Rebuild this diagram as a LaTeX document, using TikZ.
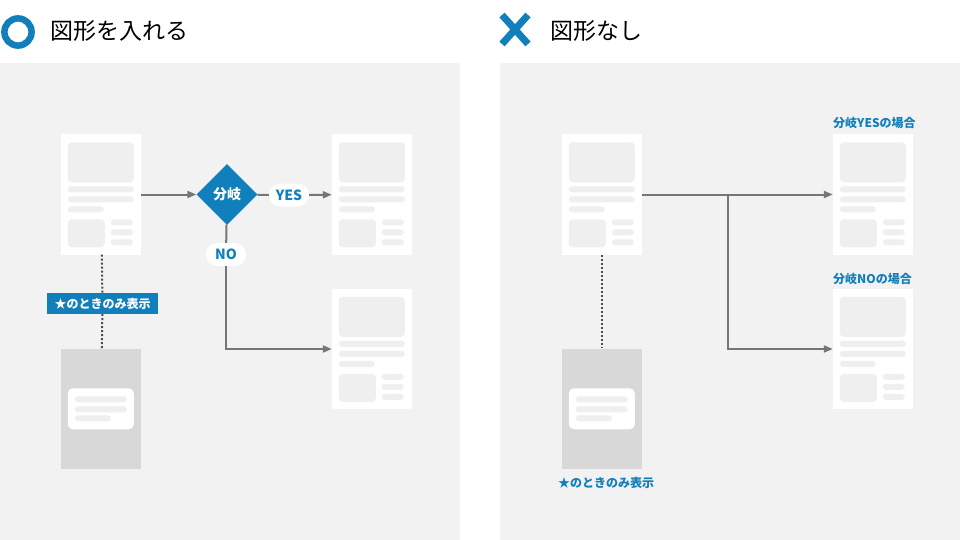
\documentclass[tikz,border=0pt]{standalone}
\usepackage{fontspec}
\setmainfont{Noto Sans CJK JP}
\usetikzlibrary{arrows.meta,shapes.geometric}
\definecolor{mainblue}{RGB}{17,127,187}
\definecolor{panelgray}{RGB}{242,242,242}
\definecolor{inkgray}{RGB}{118,118,118}
\definecolor{skeleton}{RGB}{239,239,239}
\definecolor{mutedcard}{RGB}{216,216,216}
\tikzstyle{page}=[rectangle,fill=white,minimum width=80,minimum height=120,inner sep=0pt]
\tikzstyle{hidden page}=[page,fill=mutedcard]
\tikzstyle{branch}=[diamond,fill=mainblue,text=white,font=\bfseries\fontsize{14}{14}\selectfont,minimum width=61,minimum height=61,inner sep=0pt]
\tikzstyle{answer}=[rectangle,rounded corners=11,fill=white,text=mainblue,font=\bfseries\fontsize{14}{14}\selectfont,minimum width=40,minimum height=23,inner sep=0pt]
\tikzstyle{tag}=[rectangle,fill=mainblue,text=white,font=\bfseries\fontsize{12}{12}\selectfont,minimum width=111,minimum height=21,inner sep=0pt]
\tikzstyle{caption}=[text=mainblue,font=\bfseries\fontsize{12}{12}\selectfont,inner sep=0pt]
\tikzstyle{heading}=[font=\fontsize{23}{23}\selectfont,inner sep=0pt,anchor=west]
\tikzstyle{link}=[draw=inkgray,line width=2]
\tikzstyle{flow}=[link,-{Triangle[length=9,width=7]}]
\tikzstyle{optional}=[draw=black!70,line width=2,dash pattern=on 2 off 2]

\begin{document}
\begin{tikzpicture}[x=1pt,y=-1pt]
    \useasboundingbox[fill=white] (0,0) rectangle (960,540);
    % Two panels
    \fill[panelgray] (0,63) rectangle (460,540);
    \fill[panelgray] (500,63) rectangle (960,540);
    % Headings with their marks
    \draw[mainblue,line width=6.5] (18,32) circle (13.6);
    \node[heading] (goodtitle) at (50,31) {図形を入れる};
    \draw[mainblue,line width=7] (502,15) -- (528,44) (502,44) -- (528,15);
    \node[heading] (badtitle) at (550,31) {図形なし};

    % Left: flow with a decision shape
    \foreach \pos/\name in {{(101,194.5)/p1}, {(372,194.5)/p2}, {(372,349)/p3}}
        \node[page] (\name) at \pos {};
    \node[hidden page] (p4) at (101,408.5) {};
    \node[branch] (fork) at (227,194.5) {分岐};
    \node[answer] (yes) at (289,195) {YES};
    \node[answer] (no) at (226,254.5) {NO};
    \node[tag] (onlyif) at (102.5,303.5) {★のときのみ表示};
    \path[flow] (p1) -- (fork);
    \path[link] (fork) -- (yes);
    \path[flow] (yes) -- (p2);
    \path[link] (fork) -- (no);
    \path[flow] (no) |- (p3);
    \path[optional] (p1) -- (onlyif);
    \path[optional] (onlyif) -- (p4);

    % Right: the same flow without it
    \foreach \pos/\name in {{(602,194.5)/q1}, {(873,194.5)/q2}, {(873,349)/q3}}
        \node[page] (\name) at \pos {};
    \node[hidden page] (q4) at (602,408.5) {};
    \node[caption,anchor=west] (yescap) at (833,123) {分岐YESの場合};
    \node[caption,anchor=west] (nocap) at (833,279) {分岐NOの場合};
    \node[caption] (onlyifcap) at (606,483) {★のときのみ表示};
    \coordinate (split) at (728,194.5);
    \path[flow] (q1) -- (q2);
    \path[flow] (split) |- (q3);
    \path[optional] (q1) -- (q4);

    % Page contents
    \foreach \name in {p1,p2,p3,q1,q2,q3}{
        \begin{scope}[shift={(\name.north west)}]
            \fill[skeleton,rounded corners=4] (7,8) rectangle (73,48);
            \foreach \y in {52,62}
                \fill[skeleton,rounded corners=3] (7,\y) rectangle (73,\y+6);
            \fill[skeleton,rounded corners=3] (7,72) rectangle (43,78);
            \fill[skeleton,rounded corners=4] (7,85) rectangle (44,113);
            \foreach \y in {85,95,105}
                \fill[skeleton,rounded corners=3] (50,\y) rectangle (72,\y+6);
        \end{scope}
    }
    \foreach \name in {p4,q4}{
        \begin{scope}[shift={(\name.north west)}]
            \fill[white,rounded corners=5] (7,40) rectangle (73,81);
            \fill[skeleton,rounded corners=3] (14,48) rectangle (66,54);
            \fill[skeleton,rounded corners=3] (14,58) rectangle (66,64);
            \fill[skeleton,rounded corners=3] (14,67) rectangle (50,73);
        \end{scope}
    }
\end{tikzpicture}
\end{document}
